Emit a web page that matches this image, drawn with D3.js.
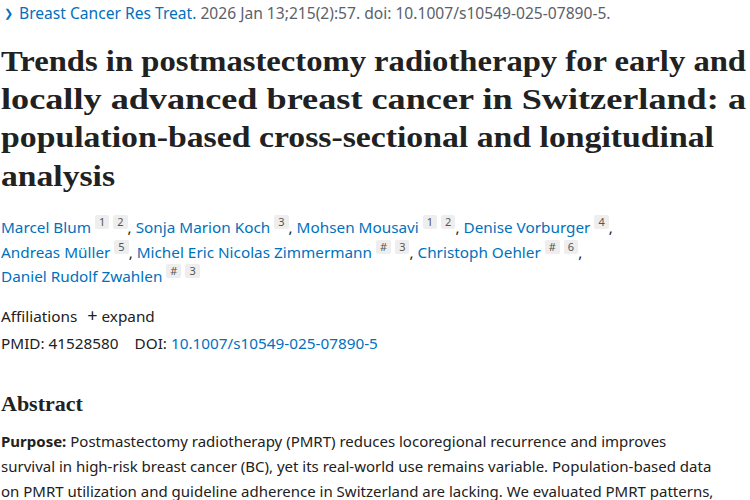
<!DOCTYPE html>
<html><head><meta charset="utf-8">
<script src="https://cdn.jsdelivr.net/npm/d3@7"></script>
<style>
body{margin:0;width:750px;height:500px;overflow:hidden;background:#fff;font-family:"Noto Sans","Open Sans",sans-serif;color:#212121;}
.abs{position:absolute;white-space:nowrap;}
a{color:#0071bc;text-decoration:none;}
.sup{display:inline-block;background:#eeeeee;color:#555;font-size:11px;line-height:14px;padding:0 4px;margin-left:4px;vertical-align:7px;border-radius:2px;}
.title{font-family:"Liberation Serif","DejaVu Serif",serif;font-weight:bold;color:#212121;transform-origin:0 0;}
</style></head><body>
<script>
const citation = ["Breast Cancer Res Treat.", " 2026 Jan 13;215(2):57. doi: 10.1007/s10549-025-07890-5."];
const titleLines = ["Trends in postmastectomy radiotherapy for early and","locally advanced breast cancer in Switzerland: a","population-based cross-sectional and longitudinal","analysis"];
const titleWidths = [745,745,713,114];
const authorLines = [
 [["Marcel Blum",["1","2"]],["Sonja Marion Koch",["3"]],["Mohsen Mousavi",["1","2"]],["Denise Vorburger",["4"]]],
 [["Andreas Müller",["5"]],["Michel Eric Nicolas Zimmermann",["#","3"]],["Christoph Oehler",["#","6"]]],
 [["Daniel Rudolf Zwahlen",["#","3"]]]
];
const pmid = "41528580", doi = "10.1007/s10549-025-07890-5";
const abstractLines = [
 ["Purpose:"," Postmastectomy radiotherapy (PMRT) reduces locoregional recurrence and improves"],
 [""," survival in high-risk breast cancer (BC), yet its real-world use remains variable. Population-based data"],
 [""," on PMRT utilization and guideline adherence in Switzerland are lacking. We evaluated PMRT patterns,"]
];
const body = d3.select("body");
function abs(x,y){return body.append("div").attr("class","abs").style("left",x+"px").style("top",y+"px");}
// citation
const c = abs(4,3).style("font-size","15.6px").style("line-height","20px");
c.append("span").style("color","#0071bc").style("margin-right","6px").html("&#x276F;").style("font-size","11px").style("vertical-align","2px");
c.append("a").text(citation[0]);
c.append("span").style("color","#5b616b").text(citation[1]);
// title
const tTops=[43,81,119,158];
titleLines.forEach((t,i)=>{
  const el = abs(1,tTops[i]).attr("class","abs title").style("font-size","29px").style("line-height","36px").text(t);
  const w = el.node().getBoundingClientRect().width;
  el.style("transform","scaleX("+(titleWidths[i]/w)+")");
});
// authors
const aTops=[215,240,264];
authorLines.forEach((line,i)=>{
  const d = abs(1,aTops[i]).style("font-size","15.3px").style("line-height","22px");
  line.forEach((a,j)=>{
    d.append("a").text(a[0]);
    a[1].forEach(s=>d.append("span").attr("class","sup").text(s));
    if(!(i===2)) d.append("span").text(", ");
  });
});
const af = abs(1,304).style("font-size","15.3px").style("line-height","22px");
af.append("span").text("Affiliations");
af.append("span").style("margin-left","10px").style("font-size","18px").text("+");
af.append("span").text(" expand");
const p = abs(1,332).style("font-size","15.3px").style("line-height","22px");
p.append("span").text("PMID: "+pmid);
p.append("span").style("margin-left","16px").text("DOI: ");
p.append("a").text(doi);
abs(1,390).attr("class","abs title").style("font-size","22px").style("line-height","28px").text("Abstract");
abstractLines.forEach((l,i)=>{
  const d=abs(1,430+i*25).style("font-size","15px").style("line-height","22px");
  if(l[0]) d.append("b").text(l[0]);
  d.append("span").text(l[0]?l[1]:l[1].trim());
});
</script>
</body></html>
